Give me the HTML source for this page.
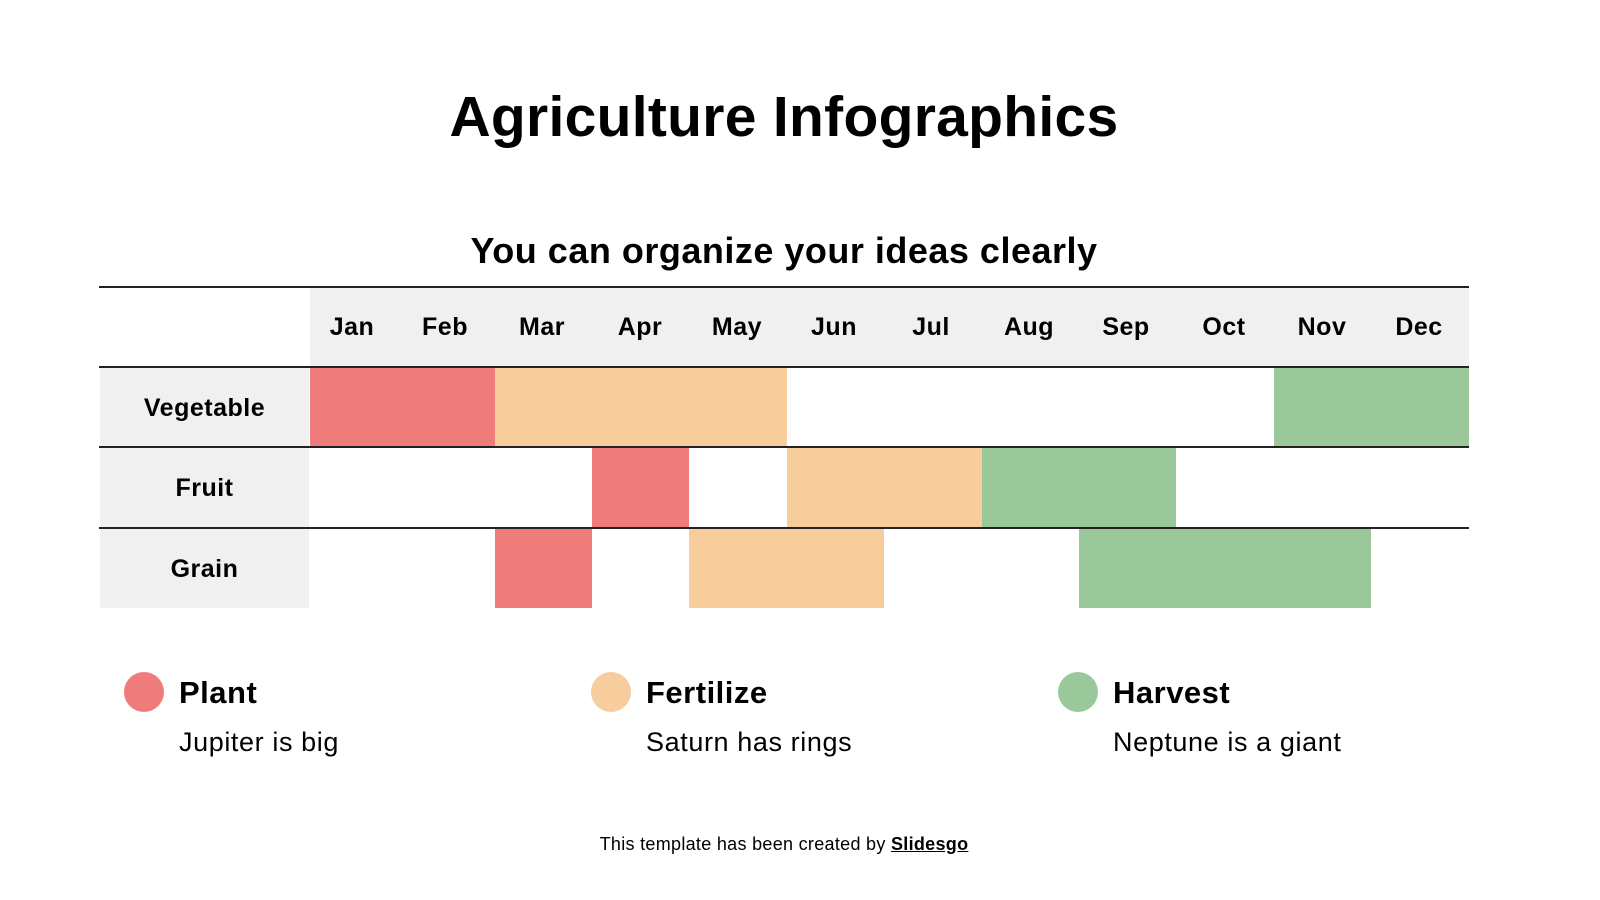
<!DOCTYPE html>
<html><head><meta charset="utf-8"><style>
*{margin:0;padding:0;box-sizing:border-box}
body{width:1600px;height:900px;background:#fff;position:relative;overflow:hidden;font-family:"Liberation Sans",sans-serif;color:#000}
.a{position:absolute}
.t{white-space:nowrap}
.c{transform:translateX(-50%)}
.line{position:absolute;left:99px;width:1370px;height:2px;background:#222}
.m{position:absolute;top:312px;font-size:25px;font-weight:bold;line-height:30px;transform:translateX(-50%);letter-spacing:0.5px}
.r{position:absolute;left:100px;width:209px;height:80px;font-size:25px;font-weight:bold;display:flex;align-items:center;justify-content:center;letter-spacing:0.5px}
.dot{position:absolute;width:40px;height:40px;border-radius:50%}
.lt{position:absolute;font-size:31px;font-weight:bold;letter-spacing:0.5px;line-height:36px}
.ls{position:absolute;font-size:27px;line-height:30px;letter-spacing:0.6px}
</style></head><body>
<div class="a t c" style="left:784px;top:84px;font-size:57px;font-weight:bold;letter-spacing:0.3px;line-height:66px">Agriculture Infographics</div>
<div class="a t c" style="left:784px;top:230px;font-size:36px;font-weight:bold;letter-spacing:0.5px;line-height:42px">You can organize your ideas clearly</div>

<div class="a" style="left:310px;top:287px;width:1159px;height:80px;background:#f0f0f0"></div>
<div class="a" style="left:100px;top:367px;width:209px;height:241px;background:#f0f0f0"></div>

<div class="a" style="left:310px;top:368px;width:185px;height:79px;background:#f07b7b"></div>
<div class="a" style="left:495px;top:368px;width:292px;height:79px;background:#f8cd9d"></div>
<div class="a" style="left:1274px;top:368px;width:195px;height:79px;background:#9bc89b"></div>
<div class="a" style="left:592px;top:448px;width:97px;height:80px;background:#f07b7b"></div>
<div class="a" style="left:787px;top:448px;width:195px;height:80px;background:#f8cd9d"></div>
<div class="a" style="left:982px;top:448px;width:194px;height:80px;background:#9bc89b"></div>
<div class="a" style="left:495px;top:529px;width:97px;height:79px;background:#f07b7b"></div>
<div class="a" style="left:689px;top:529px;width:195px;height:79px;background:#f8cd9d"></div>
<div class="a" style="left:1079px;top:529px;width:292px;height:79px;background:#9bc89b"></div>

<div class="line" style="top:286px"></div>
<div class="line" style="top:366px"></div>
<div class="line" style="top:446px"></div>
<div class="line" style="top:527px"></div>

<div class="m" style="left:352px">Jan</div>
<div class="m" style="left:445px">Feb</div>
<div class="m" style="left:542px">Mar</div>
<div class="m" style="left:640px">Apr</div>
<div class="m" style="left:737px">May</div>
<div class="m" style="left:834px">Jun</div>
<div class="m" style="left:931px">Jul</div>
<div class="m" style="left:1029px">Aug</div>
<div class="m" style="left:1126px">Sep</div>
<div class="m" style="left:1224px">Oct</div>
<div class="m" style="left:1322px">Nov</div>
<div class="m" style="left:1419px">Dec</div>

<div class="r" style="top:368px">Vegetable</div>
<div class="r" style="top:448px">Fruit</div>
<div class="r" style="top:529px">Grain</div>

<div class="dot" style="left:124px;top:672px;background:#f07b7b"></div>
<div class="dot" style="left:591px;top:672px;background:#f8cd9d"></div>
<div class="dot" style="left:1058px;top:672px;background:#9bc89b"></div>
<div class="lt" style="left:179px;top:675px">Plant</div>
<div class="lt" style="left:646px;top:675px">Fertilize</div>
<div class="lt" style="left:1113px;top:675px">Harvest</div>
<div class="ls" style="left:179px;top:727px">Jupiter is big</div>
<div class="ls" style="left:646px;top:727px">Saturn has rings</div>
<div class="ls" style="left:1113px;top:727px">Neptune is a giant</div>

<div class="a t c" style="left:784px;top:833px;font-size:18px;line-height:22px;letter-spacing:0.3px">This template has been created by <b style="text-decoration:underline">Slidesgo</b></div>
</body></html>
